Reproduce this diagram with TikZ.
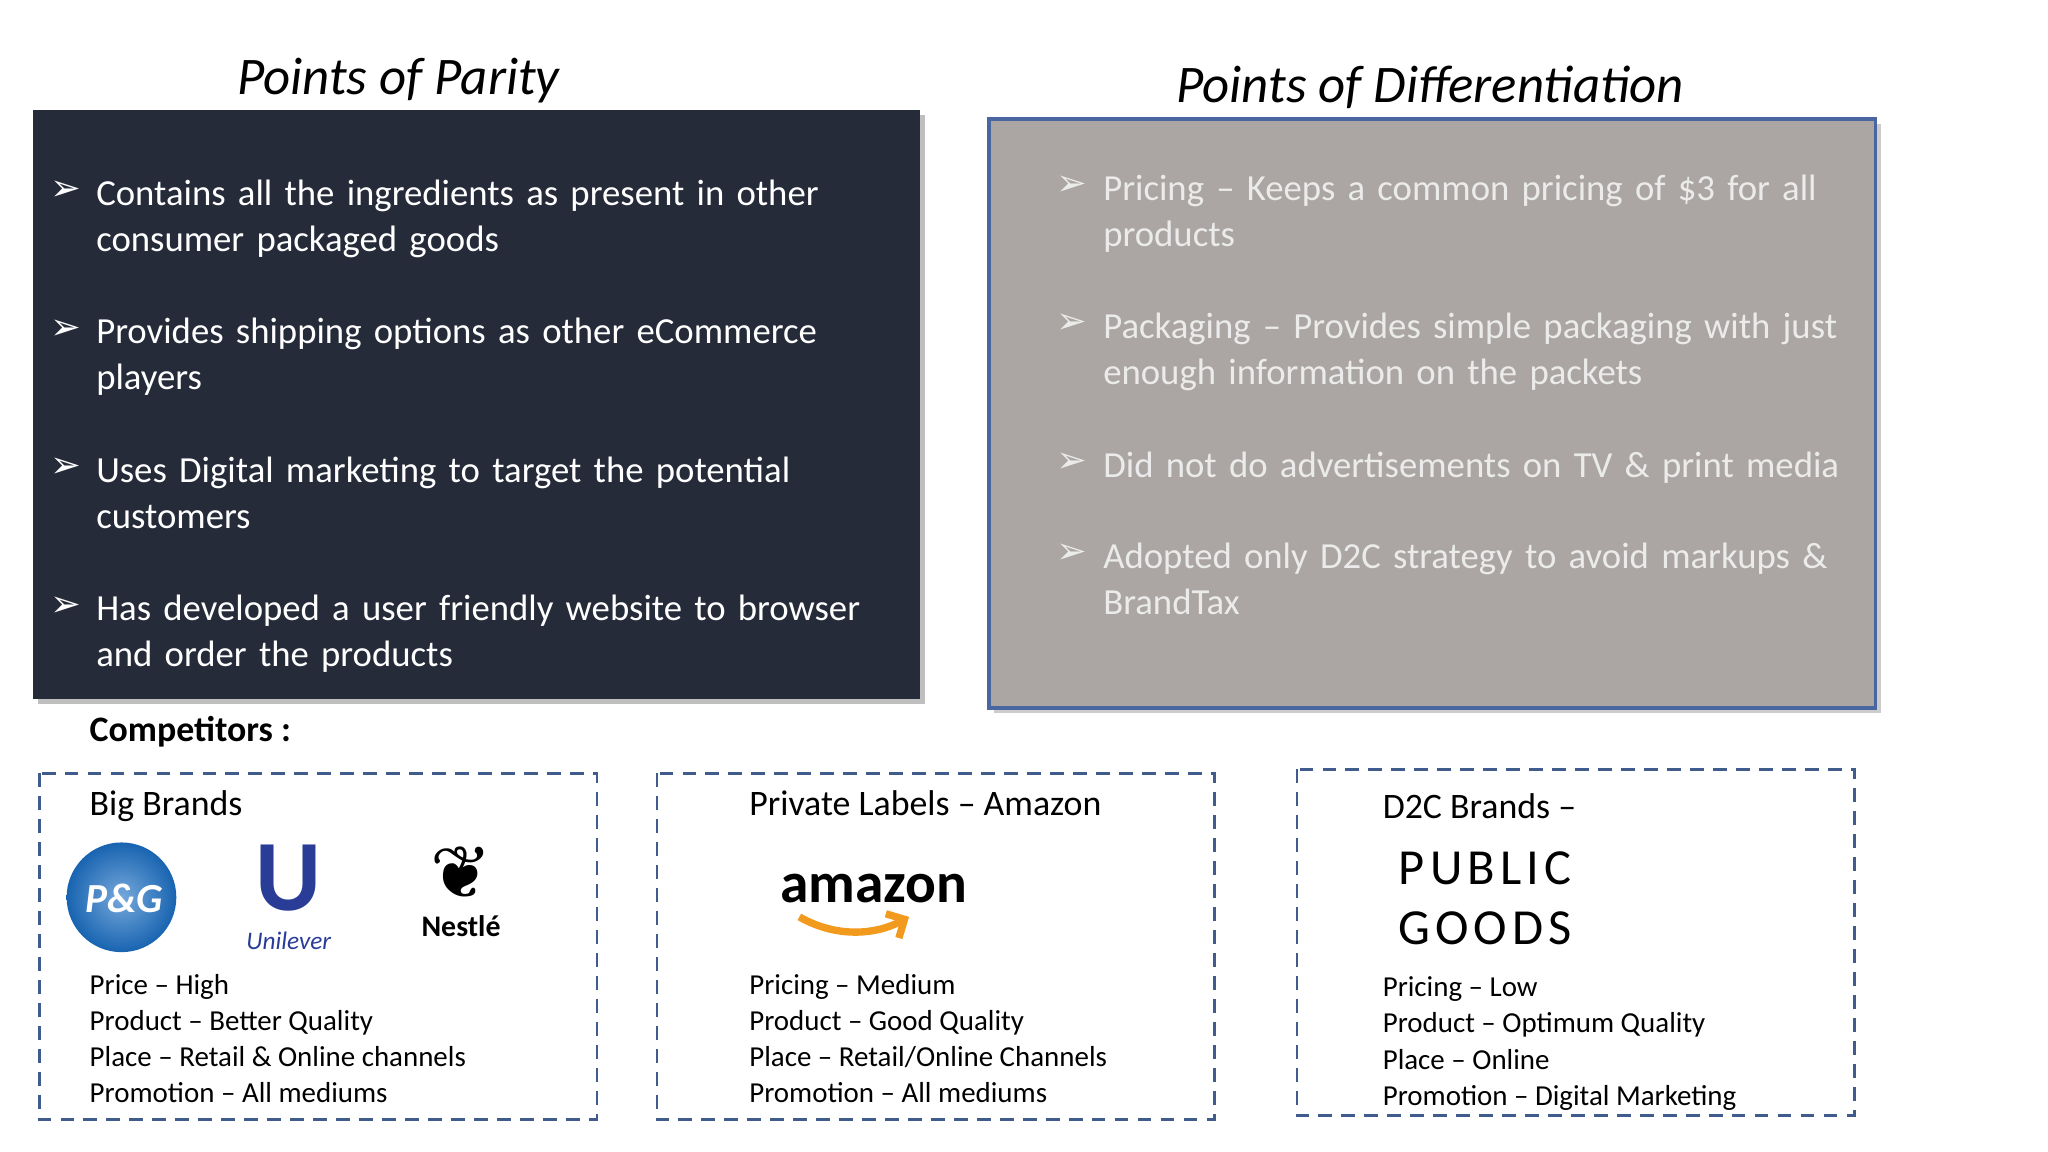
\documentclass[tikz,border=0pt]{standalone}
\usepackage{fontspec}
\setmainfont{Carlito}
\newfontfamily\dv{DejaVu Sans}
\usetikzlibrary{shadows,arrows.meta}
\hyphenpenalty=10000
\definecolor{dark}{HTML}{262B3A}
\definecolor{greyb}{HTML}{ABA6A3}
\definecolor{bord}{HTML}{4A66A0}
\definecolor{dash}{HTML}{3F5C8C}
\definecolor{pgblue}{HTML}{1B6FC4}
\definecolor{ulblue}{HTML}{2A3D96}
\definecolor{amzor}{HTML}{F29A1E}
\tikzset{
 x=0.01cm,y=-0.01cm,
 btxt/.style={anchor=north west,inner sep=0,align=left,text width=6.2cm,font=\fontsize{8}{10}\selectfont},
 bul/.style={anchor=north west,inner sep=0,font=\dv\fontsize{8}{8}\selectfont},
 ttl/.style={font=\itshape\fontsize{11.5}{13}\selectfont,inner sep=0},
 dbox/.style={draw=dash,dashed,line width=0.6pt,dash pattern=on 3pt off 2pt},
 stxt/.style={anchor=north west,inner sep=0,align=left,font=\fontsize{6.3}{7.9}\selectfont},
 hd/.style={anchor=north west,inner sep=0,font=\fontsize{7.8}{9}\selectfont}
}
\begin{document}
\begin{tikzpicture}
\useasboundingbox (0,0) rectangle (1568,882);
\node[ttl] (t1) at (305,62) {Points of Parity};
\node[ttl] (t2) at (1095,67) {Points of Differentiation};
\fill[black!25] (29,88) rectangle (708,539);
\fill[dark] (25,84) rectangle (704,535);
\fill[black!20] (761,95) rectangle (1440,546);
\filldraw[fill=greyb,draw=bord,line width=0.8pt] (757,91) rectangle (1436,542);
\foreach \y/\t in {137/{Contains all the ingredients as present in other consumer packaged goods},243/{Provides shipping options as other eCommerce players},349/{Uses Digital marketing to target the potential customers},455/{Has developed a user friendly website to browser and order the products}}{
 \node[bul,text=white] at (38,\y+1) {➢};
 \node[btxt,text=white] at (73,\y) {\t};
}
\foreach \y/\t in {133/{Pricing -- Keeps a common pricing of \$3 for all products},239/{Packaging -- Provides simple packaging with just enough information on the packets},345/{Did not do advertisements on TV \& print media},415/{Adopted only D2C strategy to avoid markups \& BrandTax}}{
 \node[bul,text=white!92!black] at (808,\y+1) {➢};
 \node[btxt,text=white!92!black,text width=5.9cm] at (844,\y) {\t};
}
\node[hd,font=\bfseries\fontsize{7.8}{9}\selectfont] (comp) at (68,548) {Competitors :};
\draw[dbox] (30,592) rectangle (457,857);
\draw[dbox] (503,592) rectangle (930,857);
\draw[dbox] (993,589) rectangle (1420,854);
\node[hd] (h1) at (68,605) {Big Brands};
\node[hd] (h2) at (573,605) {Private Labels -- Amazon};
\node[hd] (h3) at (1058,607) {D2C Brands --};
\node[stxt] (s1) at (68,745) {Price -- High\\Product -- Better Quality\\Place -- Retail \& Online channels\\Promotion -- All mediums};
\node[stxt] (s2) at (573,745) {Pricing -- Medium\\Product -- Good Quality\\Place -- Retail/Online Channels\\Promotion -- All mediums};
\node[stxt] (s3) at (1058,747) {Pricing -- Low\\Product -- Optimum Quality\\Place -- Online\\Promotion -- Digital Marketing};
% P&G
\shade[inner color=pgblue!60!white,outer color=pgblue!90!black] (93,687) circle (42);
\node[text=white,font=\bfseries\itshape\fontsize{9}{10}\selectfont] (pg) at (95,688) {P\&G};
% Unilever
\node[text=ulblue,font=\bfseries\fontsize{22}{22}\selectfont,inner sep=0] (ul) at (221,672) {U};
\node[text=ulblue,font=\itshape\fontsize{5.5}{6}\selectfont,inner sep=0] (ult) at (221,720) {Unilever};
% Nestle
\node[font=\fontsize{16}{16}\selectfont,inner sep=0] (nb) at (353,668) {\dv ❦};
\node[font=\bfseries\fontsize{6.5}{7}\selectfont,inner sep=0] (ne) at (353,709) {Nestlé};
% amazon
\node[font=\bfseries\fontsize{12.5}{13}\selectfont,inner sep=0] (amz) at (669,680) {amazon};
\draw[amzor,line width=1.6pt,-{Straight Barb[length=3pt]}] (612,702) .. controls (640,718) and (670,716) .. (696,702);
% public goods
\node[align=center,font=\fontsize{11}{13}\selectfont,inner sep=0] (pgd) at (1137,688) {\addfontfeature{LetterSpace=10}PUBLIC\\\addfontfeature{LetterSpace=10}GOODS};
\end{tikzpicture}
\end{document}
